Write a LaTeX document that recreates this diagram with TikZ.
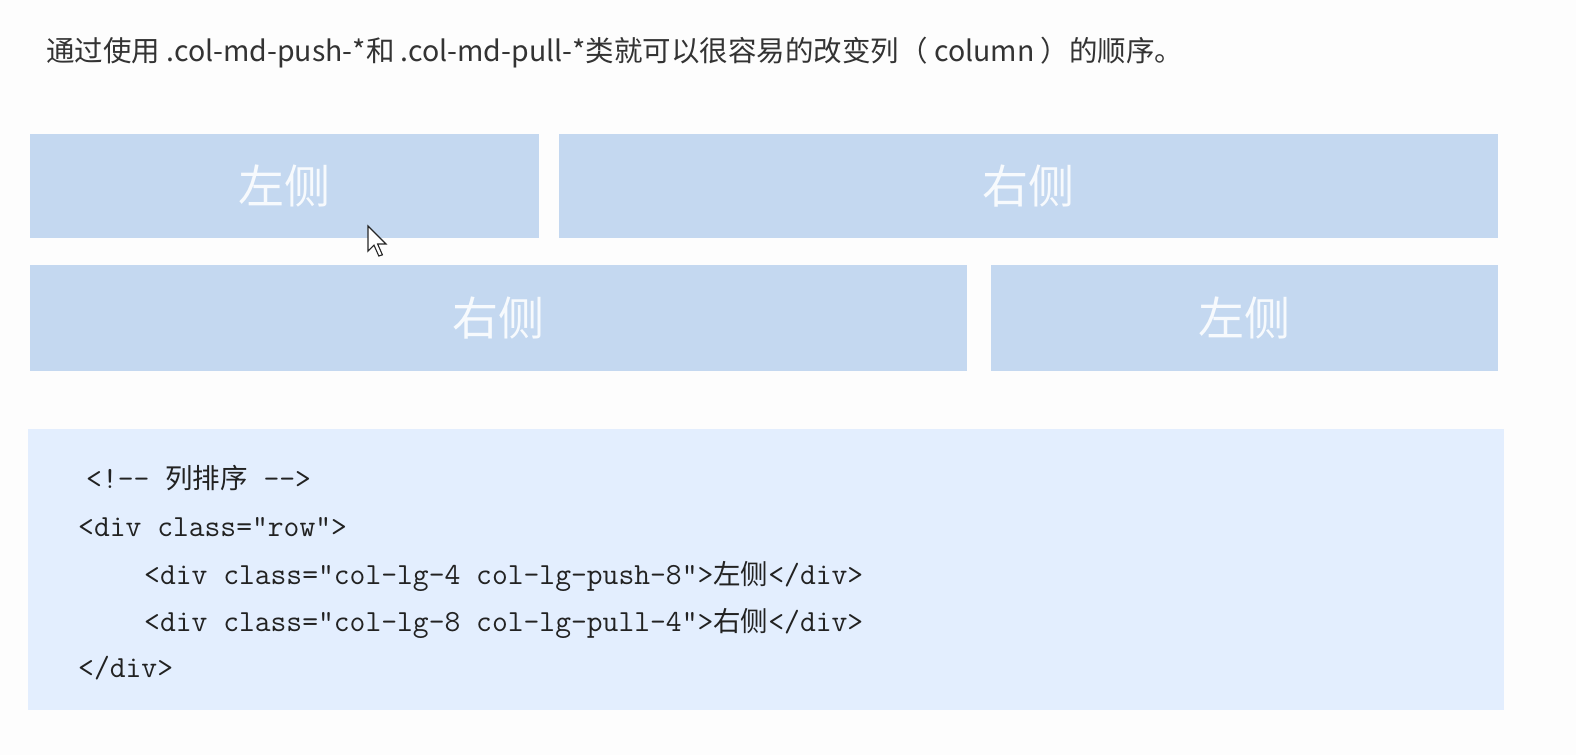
\documentclass[tikz,border=0pt]{standalone}
\usepackage{fontspec}
\newfontfamily\cjk{Noto Sans CJK SC}
\definecolor{bgc}{HTML}{FDFDFD}
\definecolor{colc}{HTML}{C4D8F0}
\definecolor{codebg}{HTML}{E3EEFE}
\definecolor{titlec}{HTML}{333333}
\definecolor{codec}{HTML}{222222}
\definecolor{labc}{HTML}{F7FAFD}
\newcommand{\C}[1]{{\cjk\fontsize{27.5}{30}\selectfont #1}}
\tikzset{
  colbox/.style={fill=colc, inner sep=0pt, outer sep=0pt, anchor=north west, text=labc,
    font=\cjk\fontsize{46}{50}\selectfont},
  codeline/.style={anchor=base west, inner sep=0pt, text=codec, font=\ttfamily\fontsize{30.7}{32}\selectfont},
}
\begin{document}
\begin{tikzpicture}[x=1pt,y=-1pt]
\useasboundingbox (0,0) rectangle (1576,755);
\fill[bgc] (0,0) rectangle (1576,755);
% title
\node[anchor=base west, inner sep=0pt, text=titlec, font=\cjk\fontsize{28.5}{32}\selectfont] (title) at (46,61)
  {通过使用 .col-md-push-*和 .col-md-pull-*类就可以很容易的改变列（ column ）的顺序。};
% columns
\node[colbox, minimum width=509pt, minimum height=104pt] (l1) at (30,134) {左侧};
\node[colbox, minimum width=939pt, minimum height=104pt] (r1) at (559,134) {右侧};
\node[colbox, minimum width=937pt, minimum height=106pt] (r2) at (30,265) {右侧};
\node[colbox, minimum width=507pt, minimum height=106pt] (l2) at (991,265) {左侧};
% code block
\node[fill=codebg, inner sep=0pt, outer sep=0pt, anchor=north west, minimum width=1476pt, minimum height=281pt] (code) at (28,429) {};
\node[codeline] (c1) at (86,488) {<!-{}- \C{列排序} -{}->};
\node[codeline] (c2) at (78,536) {<div class="row">};
\node[codeline] (c3) at (144,584) {<div class="col-lg-4 col-lg-push-8">\C{左侧}</div>};
\node[codeline] (c4) at (144,631) {<div class="col-lg-8 col-lg-pull-4">\C{右侧}</div>};
\node[codeline] (c5) at (78,677) {</div>};
% mouse cursor
\begin{scope}[shift={(368,226)}, scale=1.2]
\draw[fill=white, draw=black!85, line width=1.1pt, line join=miter]
  (0,0) -- (0,21) -- (5,16) -- (9,25) -- (12,24) -- (8,15) -- (15,15) -- cycle;
\end{scope}
\end{tikzpicture}
\end{document}
